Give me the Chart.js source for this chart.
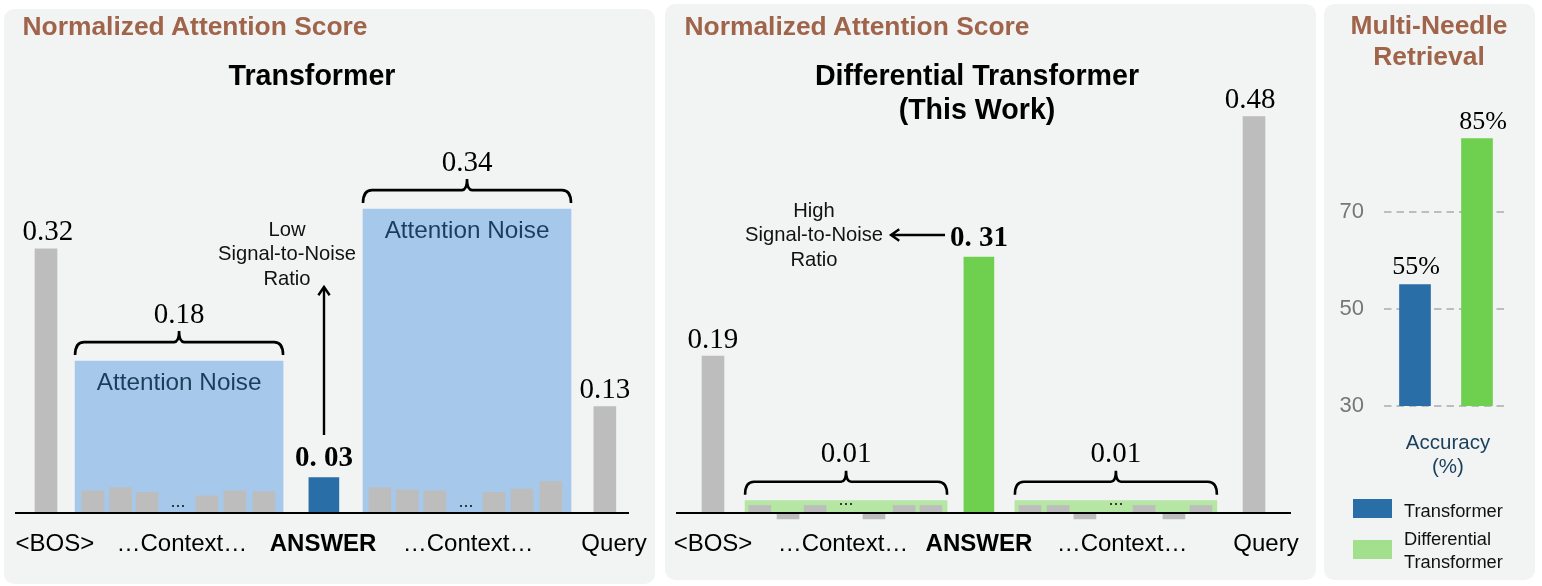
<!DOCTYPE html>
<html lang="en">
<head>
  <meta charset="UTF-8">
  <title>Attention Score Comparison</title>
  <script src="https://cdn.jsdelivr.net/npm/chart.js"></script>
  <style>
    html, body { margin: 0; padding: 0; background: #fff; }
    body { position: relative; width: 1542px; height: 586px; overflow: hidden; font-family: "Liberation Sans", sans-serif; }
    .panel { position: absolute; background: #f2f4f4; border-radius: 10px; }
    canvas { position: absolute; top: 0; }
    .text { position: absolute; white-space: nowrap; text-align: center; transform: translate(-50%, -50%); }
    .heading { color: #a0644b; font-weight: bold; font-size: 26.4px; line-height: 31px; }
    .title { color: #000; font-weight: bold; font-size: 28.6px; line-height: 34px; }
    .axis-name { color: #1a3f5c; font-size: 20.5px; line-height: 24px; }
    .swatch { position: absolute; left: 1353px; width: 39px; height: 19px; }
    .legend { color: #111; font-size: 18.3px; line-height: 23px; text-align: left; transform: translate(0, -50%); }
  </style>
</head>
<body>
  <div class="panel" style="left:4px;top:9px;width:651px;height:575px"></div>
  <div class="panel" style="left:665px;top:4px;width:651px;height:576px"></div>
  <div class="panel" style="left:1324px;top:4px;width:211px;height:576px"></div>

  <canvas id="transformerChart" width="660" height="586" style="left:0"></canvas>
  <canvas id="differentialChart" width="660" height="586" style="left:660px"></canvas>
  <canvas id="retrievalChart" width="222" height="586" style="left:1320px"></canvas>

  <div class="text heading" style="left:195px;top:26px">Normalized Attention Score</div>
  <div class="text heading" style="left:857px;top:26px">Normalized Attention Score</div>
  <div class="text heading" style="left:1429px;top:41px">Multi-Needle<br>Retrieval</div>
  <div class="text title" style="left:312px;top:75px">Transformer</div>
  <div class="text title" style="left:977px;top:92px">Differential Transformer<br>(This Work)</div>
  <div class="text axis-name" style="left:1448px;top:454px">Accuracy<br>(%)</div>

  <div class="swatch" style="top:499px;background:#2a6ea8"></div>
  <div class="swatch" style="top:540px;background:#a3e08d"></div>
  <div class="text legend" style="left:1404px;top:510px">Transformer</div>
  <div class="text legend" style="left:1404px;top:550px">Differential<br>Transformer</div>

  <script>
  // shared x axis words
  const tokenNames = ['<BOS>', '…Context…', 'ANSWER', '…Context…', 'Query'];

  // Transformer panel (x = token position, y = bar height)
  const tfNamePos = [0.32, 4.87, 9.93, 15.13, 20.36];
  const tfEdgePos = [0, 20.03];
  const tfEdgeVals = [0.32, 0.129];
  const tfEdgeText = ['0.32', '0.13'];
  const tfContextPos = [1.68, 2.67, 3.62, 5.77, 6.77, 7.81, 11.97, 12.95, 13.94, 16.06, 17.06, 18.1];
  const tfContextVals = [0.027, 0.031, 0.025, 0.021, 0.027, 0.026, 0.031, 0.028, 0.027, 0.025, 0.029, 0.038];
  const tfBoxPos = [4.77, 15.09];
  const tfBoxVals = [0.184, 0.368];
  const tfBoxText = ['0.18', '0.34'];
  const tfDotsPos = [4.73, 15.05];
  const tfAnswerPos = [9.96];
  const tfAnswerVals = [0.043];
  const tfAnswerText = ['0. 03'];

  // Differential Transformer panel
  const dtNamePos = [0, 4.66, 9.53, 14.66, 19.82];
  const dtEdgePos = [0, 19.39];
  const dtEdgeVals = [0.19, 0.48];
  const dtEdgeText = ['0.19', '0.48'];
  const dtContextPos = [1.68, 2.69, 3.66, 5.77, 6.85, 7.81, 11.36, 12.37, 13.33, 15.45, 16.52, 17.49];
  const dtContextVals = [0.009, -0.007, 0.009, -0.007, 0.009, 0.009, 0.009, 0.009, -0.007, 0.009, -0.007, 0.009];
  const dtBoxPos = [4.77, 14.44];
  const dtBoxVals = [0.015, 0.015];
  const dtBoxText = ['0.01', '0.01'];
  const dtDotsPos = [4.77, 14.44];
  const dtAnswerPos = [9.53];
  const dtAnswerVals = [0.31];
  const dtAnswerText = ['0. 31'];

  // Multi-needle retrieval panel
  const models = ['Transformer', 'Differential Transformer'];
  const accuracy = [55, 85];
  const accuracyText = ['55%', '85%'];
  const accuracyTicks = [30, 50, 70];

  const GREY = '#bdbdbd';
  const BLUE = '#2a6ea8';
  const GREEN = '#6fd04f';
  const SERIF = '"Liberation Serif", serif';
  const SANS = '"Liberation Sans", sans-serif';

  const points = (xs, ys) => xs.map((x, i) => ({ x: x, y: ys[i] }));

  const putText = (ctx, text, x, y, font, color) => {
    ctx.font = font;
    ctx.fillStyle = color || '#000';
    ctx.textAlign = 'center';
    ctx.textBaseline = 'middle';
    ctx.fillText(text, x, y);
  };

  const drawBrace = (ctx, x0, x1, top) => {
    const mid = (x0 + x1) / 2, yEnd = top - 6, yBar = top - 19, yTip = top - 30;
    ctx.beginPath();
    ctx.moveTo(x0, yEnd);
    ctx.quadraticCurveTo(x0, yBar, x0 + 9, yBar);
    ctx.lineTo(mid - 5, yBar);
    ctx.quadraticCurveTo(mid, yBar, mid, yTip);
    ctx.quadraticCurveTo(mid, yBar, mid + 5, yBar);
    ctx.lineTo(x1 - 9, yBar);
    ctx.quadraticCurveTo(x1, yBar, x1, yEnd);
    ctx.strokeStyle = '#000';
    ctx.lineWidth = 2.6;
    ctx.stroke();
  };

  const drawArrow = (ctx, x0, y0, x1, y1) => {
    const a = Math.atan2(y1 - y0, x1 - x0);
    ctx.beginPath();
    ctx.moveTo(x0, y0);
    ctx.lineTo(x1, y1);
    ctx.moveTo(x1 - 10 * Math.cos(a - 0.6), y1 - 10 * Math.sin(a - 0.6));
    ctx.lineTo(x1, y1);
    ctx.lineTo(x1 - 10 * Math.cos(a + 0.6), y1 - 10 * Math.sin(a + 0.6));
    ctx.strokeStyle = '#000';
    ctx.lineWidth = 2.4;
    ctx.stroke();
  };

  // one attention panel: same bars, different numbers
  const renderAttention = (id, d) => {
    const annotate = {
      id: 'annotate',
      afterDatasetsDraw(chart) {
        const { ctx, scales: { x, y } } = chart;
        ctx.save();
        d.edgePos.forEach((p, i) => {
          putText(ctx, d.edgeText[i], x.getPixelForValue(p) + d.edgeShift[i], y.getPixelForValue(d.edgeVals[i]) - 16, '29px ' + SERIF);
        });
        d.answerPos.forEach((p, i) => {
          putText(ctx, d.answerText[i], x.getPixelForValue(p), y.getPixelForValue(d.answerVals[i]) - 19, 'bold 29px ' + SERIF);
        });
        d.boxPos.forEach((p, i) => {
          const cx = x.getPixelForValue(p), top = y.getPixelForValue(d.boxVals[i]);
          drawBrace(ctx, cx - d.boxWidth / 2, cx + d.boxWidth / 2, top);
          putText(ctx, d.boxText[i], cx, top - 46, '29px ' + SERIF);
          if (d.noiseText) putText(ctx, d.noiseText, cx, top + 22, '24.3px ' + SANS, '#1a3f5c');
        });
        d.dotsPos.forEach(p => {
          ctx.font = '18px ' + SANS;
          ctx.fillStyle = '#222';
          ctx.textAlign = 'center';
          ctx.textBaseline = 'alphabetic';
          ctx.fillText('...', x.getPixelForValue(p), y.getPixelForValue(0) - d.dotsLift);
        });
        d.note.lines.forEach((line, i) => {
          putText(ctx, line, d.note.x, d.note.y + i * 24.5, '20.2px ' + SANS, '#111');
        });
        drawArrow(ctx, ...d.arrow);
        ctx.restore();
      }
    };

    new Chart(document.getElementById(id), {
      type: 'bar',
      data: {
        datasets: [
          { data: points(d.boxPos, d.boxVals), backgroundColor: d.boxColor, barThickness: d.boxWidth, order: 3 },
          { data: points(d.contextPos, d.contextVals), backgroundColor: GREY, barThickness: 22, order: 1 },
          { data: points(d.edgePos, d.edgeVals), backgroundColor: GREY, barThickness: 22, order: 1 },
          { data: points(d.answerPos, d.answerVals), backgroundColor: d.answerColor, barThickness: 30, order: 1 }
        ]
      },
      options: {
        responsive: false,
        animation: false,
        grouped: false,
        layout: { autoPadding: false, padding: { left: d.padLeft, right: d.padRight, top: 17.5, bottom: 56.4 } },
        plugins: { legend: { display: false }, tooltip: { enabled: false } },
        scales: {
          x: {
            type: 'linear',
            offset: false,
            min: d.xMin,
            max: d.xMax,
            position: { y: 0 },
            grid: { display: false, drawTicks: false },
            border: { color: '#000', width: 2, z: 1 },
            afterBuildTicks: axis => { axis.ticks = d.namePos.map(v => ({ value: v })); },
            afterFit: axis => { axis.paddingLeft = 0; axis.paddingRight = 0; },
            ticks: {
              autoSkip: false,
              maxRotation: 0,
              minRotation: 0,
              padding: 17,
              color: '#000',
              font: ctx => ({ family: SANS, size: 24, weight: ctx.index === 2 ? 'bold' : 'normal' }),
              callback: (v, i) => tokenNames[i]
            }
          },
          y: { display: false, min: -0.02, max: 0.6 }
        }
      },
      plugins: [annotate]
    });
  };

  renderAttention('transformerChart', {
    namePos: tfNamePos, edgePos: tfEdgePos, edgeVals: tfEdgeVals, edgeText: tfEdgeText, edgeShift: [2, 0],
    contextPos: tfContextPos, contextVals: tfContextVals,
    boxPos: tfBoxPos, boxVals: tfBoxVals, boxText: tfBoxText, boxColor: '#a6c8ea', boxWidth: 208, noiseText: 'Attention Noise',
    dotsPos: tfDotsPos, dotsLift: 6,
    answerPos: tfAnswerPos, answerVals: tfAnswerVals, answerText: tfAnswerText, answerColor: BLUE,
    padLeft: 16, padRight: 32, xMin: -1.075, xMax: 20.86,
    note: { lines: ['Low', 'Signal-to-Noise', 'Ratio'], x: 287, y: 230 },
    arrow: [324, 435, 324, 287]
  });

  renderAttention('differentialChart', {
    namePos: dtNamePos, edgePos: dtEdgePos, edgeVals: dtEdgeVals, edgeText: dtEdgeText, edgeShift: [0, -4],
    contextPos: dtContextPos, contextVals: dtContextVals,
    boxPos: dtBoxPos, boxVals: dtBoxVals, boxText: dtBoxText, boxColor: '#b5e6a4', boxWidth: 202,
    dotsPos: dtDotsPos, dotsLift: 8,
    answerPos: dtAnswerPos, answerVals: dtAnswerVals, answerText: dtAnswerText, answerColor: GREEN,
    padLeft: 17, padRight: 30, xMin: -1.29, xMax: 20.68,
    note: { lines: ['High', 'Signal-to-Noise', 'Ratio'], x: 154, y: 211 },
    arrow: [285, 235, 231, 235]
  });

  const accuracyLabelShift = [1, 6];
  const accuracyLabels = {
    id: 'accuracyLabels',
    afterDatasetsDraw(chart) {
      const { ctx, scales: { x, y } } = chart;
      ctx.save();
      accuracy.forEach((v, i) => {
        putText(ctx, accuracyText[i], x.getPixelForValue(i) + accuracyLabelShift[i], y.getPixelForValue(v) - 17, '26px ' + SERIF);
      });
      ctx.restore();
    }
  };

  new Chart(document.getElementById('retrievalChart'), {
    type: 'bar',
    data: {
      labels: models,
      datasets: [{ data: accuracy, backgroundColor: [BLUE, GREEN], barThickness: 31 }]
    },
    options: {
      responsive: false,
      animation: false,
      layout: { autoPadding: false, padding: { left: 0, right: 34, top: 114.4, bottom: 180 } },
      plugins: { legend: { display: false }, tooltip: { enabled: false } },
      scales: {
        x: { display: false },
        y: {
          min: 30,
          max: 90,
          afterFit: axis => { axis.width = 64; },
          afterBuildTicks: axis => { axis.ticks = accuracyTicks.map(v => ({ value: v })); },
          grid: { color: '#bdbdbd', lineWidth: 2, drawTicks: false },
          border: { display: false, dash: [7.5, 5] },
          ticks: { padding: 20, color: '#767676', font: { family: SANS, size: 22 } }
        }
      }
    },
    plugins: [accuracyLabels]
  });
  </script>
</body>
</html>
